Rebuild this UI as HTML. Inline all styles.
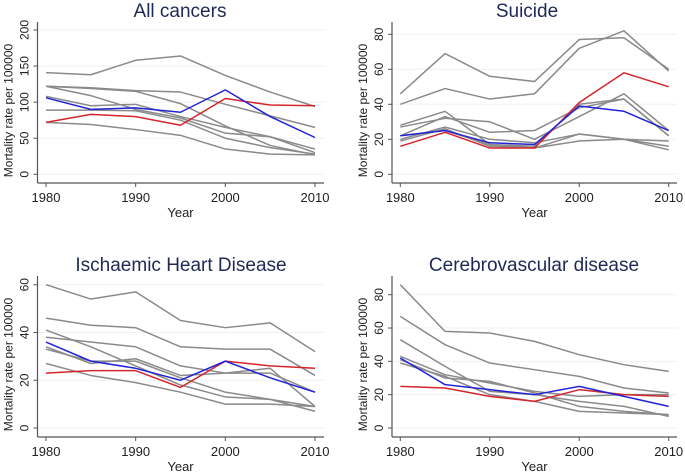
<!DOCTYPE html>
<html><head><meta charset="utf-8"><style>
html,body{margin:0;padding:0;background:#fff;}
svg{display:block;font-family:"Liberation Sans",Arial,sans-serif;}
</style></head><body>
<svg id="chart" width="685" height="474" viewBox="0 0 685 474"></svg>
<script>
const years = [1980,1985,1990,1995,2000,2005,2010];
const xTicks = [1980,1990,2000,2010];

const cancerGray = [
 [141,138,158,164,137,114,94],
 [122,120,116,114,97,81,65],
 [122,119,115,98,67,40,27],
 [122,109,90,78,57,52,35],
 [108,95,97,80,65,52,30],
 [89,89,88,75,50,37,28],
 [72,69,62,54,35,28,27]];
const cancerRed = [72,83,80,68,105,96,95];
const cancerBlue = [106,90,92,86,117,80,51];
const cancerTicks = [0,50,100,150,200];

const suicideGray = [
 [46,69,56,53,77,78,60],
 [40,49,43,46,72,82,59],
 [28,36,17,16,40,43,22],
 [27,32,30,20,33,46,25],
 [22,33,24,25,38,43,22],
 [20,27,20,18,23,20,14],
 [19,26,16,15,19,20,19],
 [22,25,17,15,23,20,16]];
const suicideRed = [16,24,15,15,41,58,50];
const suicideBlue = [22,25,18,17,39,36,25];
const suicideTicks = [0,20,40,60,80];

const ihdGray = [
 [60,54,57,45,42,44,32],
 [46,43,42,34,33,33,22],
 [41,34,26,18,13,12,9],
 [38,36,34,26,23,25,9],
 [34,27,29,22,23,23,15],
 [33,28,28,21,15,12,7],
 [27,22,19,15,10,10,9]];
const ihdRed = [23,24,24,17,28,26,25];
const ihdBlue = [36,28,25,20,28,21,15];
const ihdTicks = [0,20,40,60];

const cvdGray = [
 [86,58,57,52,44,38,34],
 [67,50,39,35,31,24,21],
 [53,37,22,20,16,13,7],
 [43,32,27,22,19,20,20],
 [41,30,28,21,13,10,8],
 [39,31,20,16,10,9,8]];
const cvdRed = [25,24,19,16,23,20,19];
const cvdBlue = [42,26,23,20,25,19,13];
const cvdTicks = [0,20,40,60,80];

const NS = "http://www.w3.org/2000/svg";
const svg = document.getElementById('chart');
function mk(tag, attrs, parent){const e=document.createElementNS(NS,tag);for(const k in attrs)e.setAttribute(k,attrs[k]);(parent||svg).appendChild(e);return e;}

function panel(cfg){
  const g = mk('g',{});
  
  
  const xS = v => cfg.x0 + (v-1980)/30*(cfg.x1-cfg.x0);
  const yS = v => cfg.y0 + (v-cfg.vmin)/(cfg.vmax-cfg.vmin)*(cfg.y1-cfg.y0);
  // grid
  cfg.ticks.forEach(t=>{
    const l = mk('line',{x1:cfg.ax+1,x2:cfg.right,y1:yS(t),y2:yS(t),stroke:'#eef0f3','stroke-width':1},g);
    
    
  });
  // axes
  const ya = mk('line',{x1:cfg.ax,x2:cfg.ax,y1:cfg.top,y2:cfg.ay,stroke:'#555','stroke-width':1.2},g);
  
  
  const xa = mk('line',{x1:cfg.ax,x2:cfg.right,y1:cfg.ay,y2:cfg.ay,stroke:'#555','stroke-width':1.2},g);
  
  
  cfg.ticks.forEach(t=>{
    mk('line',{x1:cfg.ax-4,x2:cfg.ax,y1:yS(t),y2:yS(t),stroke:'#555','stroke-width':1},g);
    const tx = mk('text',{x:cfg.ax-9,y:yS(t),transform:`rotate(-90 ${cfg.ax-9} ${yS(t)})`,'text-anchor':'middle','font-size':12,fill:'#222'},g);
    tx.textContent=t;
    
    
  });
  xTicks.forEach(t=>{
    mk('line',{x1:xS(t),x2:xS(t),y1:cfg.ay,y2:cfg.ay+4,stroke:'#555','stroke-width':1},g);
    const tx = mk('text',{x:xS(t),y:cfg.ay+19,'text-anchor':'middle','font-size':13,fill:'#222'},g);
    tx.textContent=t;
    
    
  });
  const xt = mk('text',{x:(cfg.x0+cfg.x1)/2,y:cfg.ay+34,'text-anchor':'middle','font-size':13,fill:'#222'},g);
  xt.textContent='Year';
  
  
  const ytx = cfg.ax-25, yty=(cfg.top+cfg.ay)/2+8;
  const yt = mk('text',{x:ytx,y:yty,transform:`rotate(-90 ${ytx} ${yty})`,'text-anchor':'middle','font-size':12,fill:'#222'},g);
  yt.textContent='Mortality rate per 100000';
  
  
  const ti = mk('text',{x:cfg.tx,y:cfg.ty,'text-anchor':'middle','font-size':19,fill:'#1e2a55'},g);
  ti.textContent=cfg.title;
  
  
  const line=(vals,color,name)=>{
    const p = mk('polyline',{points:vals.map((v,i)=>xS(years[i])+','+yS(v)).join(' '),fill:'none',stroke:color,'stroke-width':1.5,'stroke-linejoin':'round'},g);
    
    
  };
  cfg.gray.forEach(s=>line(s,'#8a8a8a','series-gray'));
  line(cfg.red,'#d6262b','series-red');
  line(cfg.blue,'#2323d8','series-blue');
}

panel({name:'all-cancers',title:'All cancers',gray:cancerGray,red:cancerRed,blue:cancerBlue,ticks:cancerTicks,
 vmin:0,vmax:200,y0:174.3,y1:30,x0:46,x1:315,ax:37.5,ay:183,top:22,right:324,tx:180,ty:17});
panel({name:'suicide',title:'Suicide',gray:suicideGray,red:suicideRed,blue:suicideBlue,ticks:suicideTicks,
 vmin:0,vmax:80,y0:174.3,y1:34.3,x0:400.3,x1:668.7,ax:392,ay:183,top:22,right:677,tx:527,ty:17});
panel({name:'ischaemic-heart-disease',title:'Ischaemic Heart Disease',gray:ihdGray,red:ihdRed,blue:ihdBlue,ticks:ihdTicks,
 vmin:0,vmax:60,y0:428,y1:284.7,x0:46,x1:315,ax:37.5,ay:437,top:276,right:324,tx:181,ty:271});
panel({name:'cerebrovascular-disease',title:'Cerebrovascular disease',gray:cvdGray,red:cvdRed,blue:cvdBlue,ticks:cvdTicks,
 vmin:0,vmax:80,y0:428,y1:294.7,x0:400.3,x1:668.7,ax:392,ay:437,top:276,right:677,tx:534,ty:271});
</script>
</body></html>
